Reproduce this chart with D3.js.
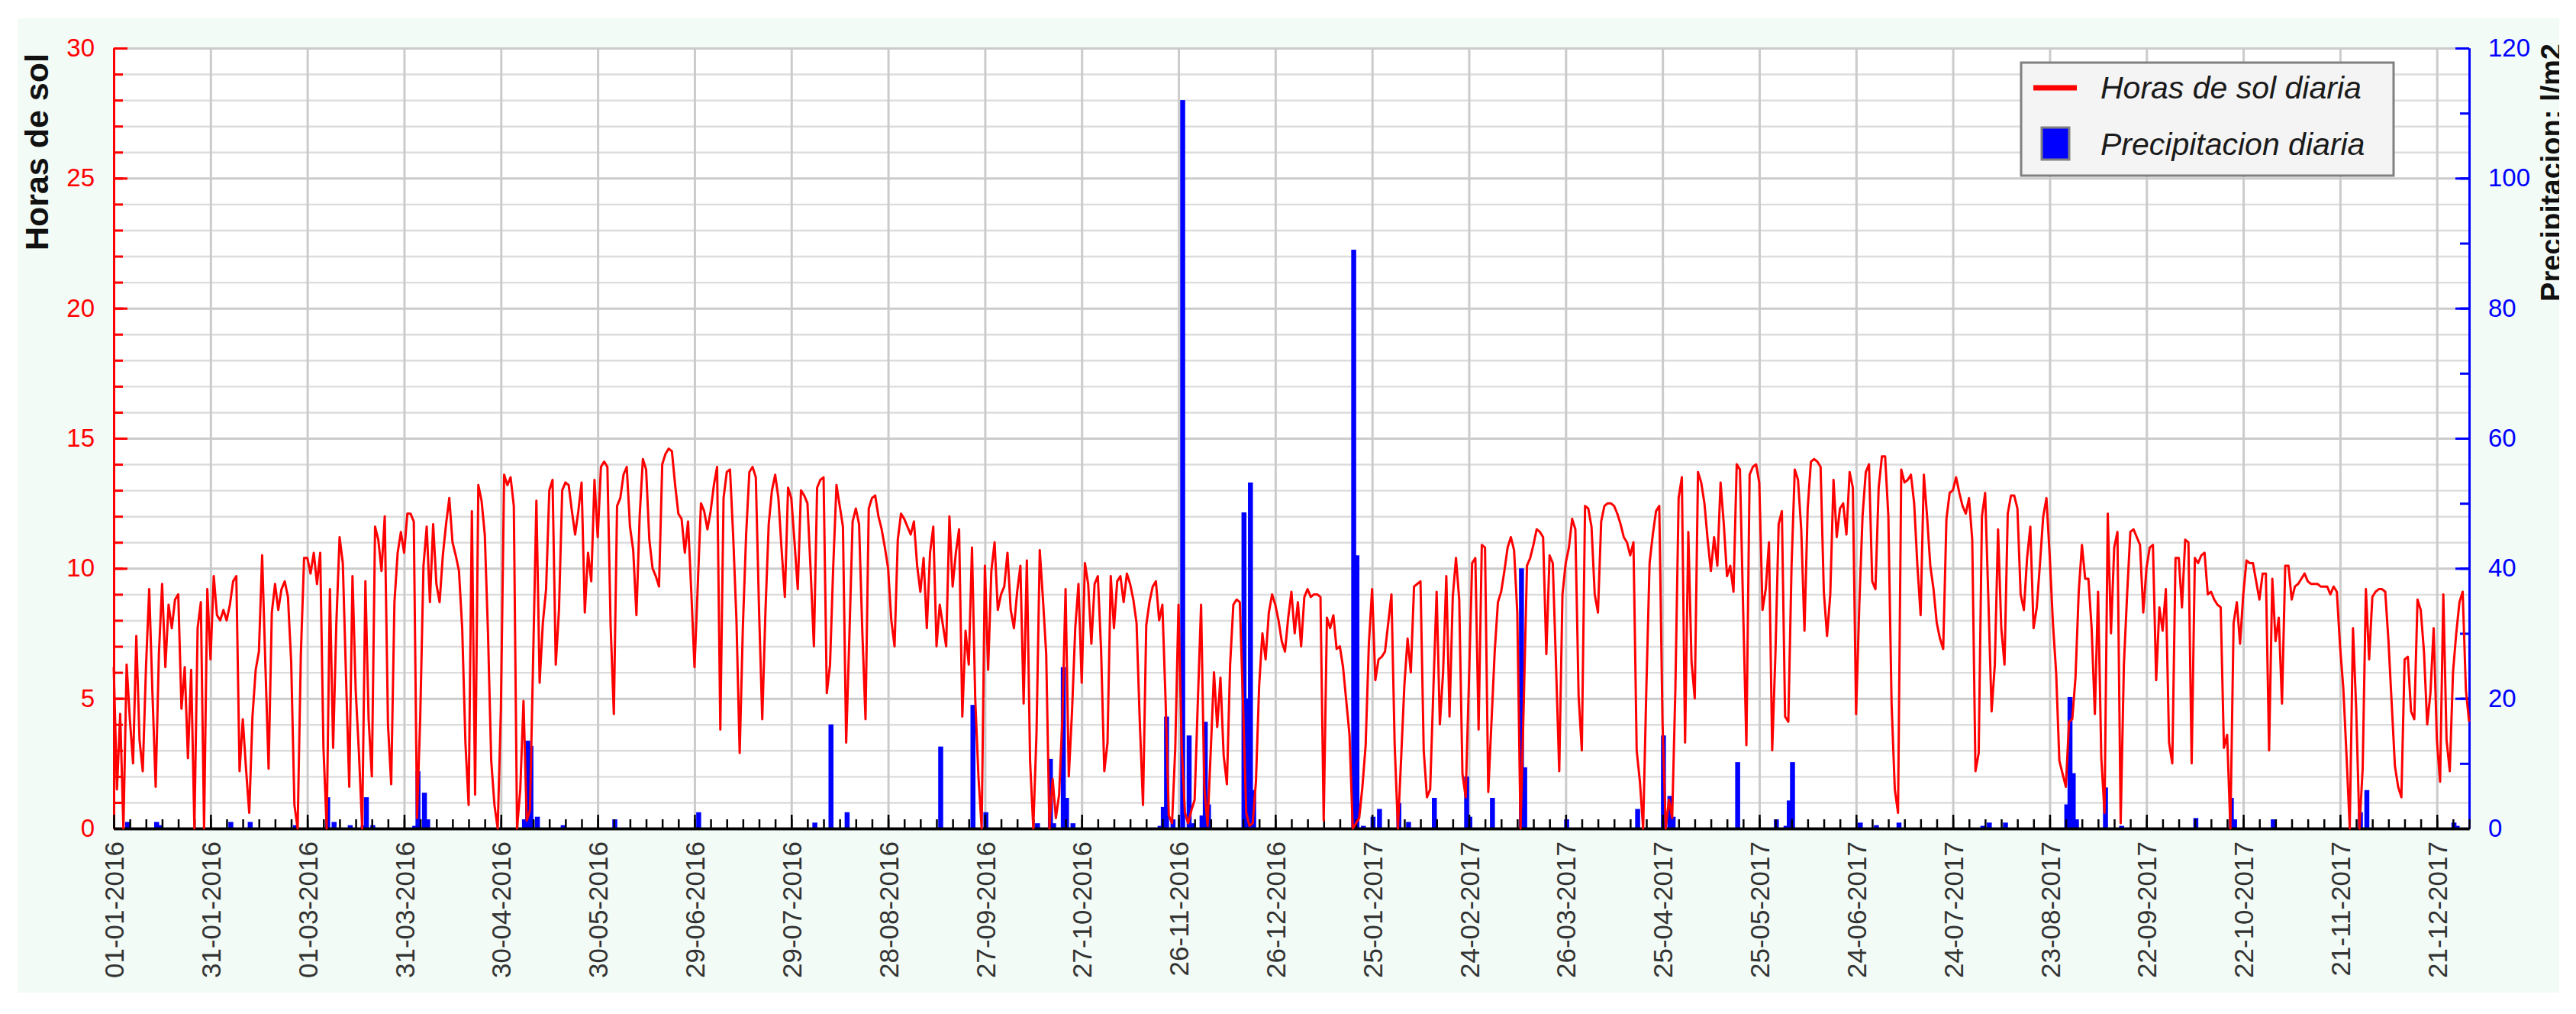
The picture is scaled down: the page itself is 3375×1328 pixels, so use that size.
<!DOCTYPE HTML>
<html>
  <head>
    <meta charset="utf-8">
    <title>Horas de sol y precipitacion diaria</title>
    <style>
      body { margin: 0; background: #fff; }
      svg text { font-family: "Liberation Sans", Arial, sans-serif; }
    </style>
  </head>
  <body>
    <script src="https://cdn.jsdelivr.net/npm/d3@7/dist/d3.min.js" charset="utf-8"></script>
    <script>
      // daily sunshine hours, one value per day from 01-01-2016
      var sun2016 = [
        6.2,1.5,4.4,0,6.3,4.2,2.5,7.4,3.4,2.2, 6.2,9.2,5.2,1.6,6.7,9.4,6.2,8.6,7.7,8.8,
        9.0,4.6,6.2,2.7,6.1,0,7.7,8.7,0,9.2, 6.5,9.7,8.2,8.0,8.4,8.0,8.6,9.5,9.7,2.2,
        4.2,2.3,0.6,4.3,6.1,6.8,10.5,6.3,2.3,8.3, 9.4,8.4,9.2,9.5,8.9,6.4,0.9,0,6.7,10.4,
        10.4,9.8,10.6,9.4,10.6,3.1,0,9.2,3.1,7.9, 11.2,10.2,5.8,1.6,9.7,5.3,2.9,0,9.5,4.2,
        2.0,11.6,11.1,9.9,12.0,4.0,1.7,8.7,10.6,11.4, 10.6,12.1,
        12.1,11.8,0.4,4.3,10.1,11.6,8.7,11.7,9.4,8.7, 10.5,11.7,12.7,11.0,10.5,9.9,7.7,3.3,0.9,12.2,
        1.3,13.2,12.6,11.3,7.5,2.6,0.9,0,4.6,13.6, 13.2,13.5,12.4,0,1.5,4.9,0.3,0.7,6.6,12.6,
        5.6,7.9,9.2,13.0,13.4,6.3,8.4,13.0,13.3,13.2, 12.2,11.3,12.2,13.3,8.3,10.6,9.5,13.4,11.2,13.9,
        14.1,13.9,7.8,4.4,12.4,12.7,13.6,13.9,11.6,10.7, 8.2,12.0,14.2,13.8,11.1,10.0,9.7,9.3,14.0,14.4,
        14.6,14.5,13.2,12.1,11.9,10.6,11.8,9.1,6.2,9.3, 12.5,
        12.2,11.5,12.2,13.2,13.9,3.8,12.7,13.7,13.8,11.2, 8.0,2.9,7.8,11.3,13.7,13.9,13.5,8.4,4.2,8.4,
        11.7,13.0,13.6,12.7,10.7,8.9,13.1,12.7,11.0,9.2, 13.0,12.8,12.5,9.9,7.0,13.1,13.4,13.5,5.2,6.3,
        10.1,13.2,12.4,11.6,3.3,7.4,11.8,12.3,11.7,7.6, 4.2,12.3,12.7,12.8,12.0,11.5,10.8,10.0,8.0,7.0,
        11.1,12.1,11.9,11.6,11.3,11.8,10.1,9.1,10.4,7.7, 10.6,11.6,7.0,8.6,7.8,7.0,12.0,9.3,10.6,11.5,
        4.3,7.6,6.3,10.8,5.0,2.0,0,10.1,6.1,9.9, 11.0,
        8.4,9.0,9.3,10.6,8.4,7.7,9.1,10.1,4.8,10.3, 2.6,0,3.7,10.7,8.8,6.7,0,1.9,0.4,1.3,
        4.2,9.2,2.0,4.5,7.7,9.4,5.6,10.2,9.4,7.1, 9.4,9.7,6.9,2.2,3.3,9.7,7.7,9.5,9.7,8.7,
        9.8,9.4,8.8,7.9,4.1,0.9,7.8,8.7,9.3,9.5, 8.0,8.6,4.9,0.5,0.2,3.1,8.6,3.1,0.6,0.2,
        0.7,1.1,4.9,8.6,1.6,0.1,3.0,6.0,3.9,5.8, 2.8,1.7,6.3,8.6,8.8,8.7,4.8,0.6,0.1,0.2,
        1.8,5.5,7.5,6.5,8.3,9.0,8.6,8.0,7.2,6.8, 8.1,9.1
      ];
      var sun2017 = [
        7.5,8.7,7.0,8.9,9.2,8.9,9.0,9.0,8.9,0.3, 8.1,7.7,8.2,6.9,7.0,6.2,4.9,3.6,0,0.2,
        0.4,1.6,3.2,7.1,9.2,5.7,6.5,6.6,6.8,7.9, 9.0,3.2,0,2.7,5.5,7.3,6.0,9.3,9.4,9.5,
        3.0,1.2,1.5,5.4,9.1,4.0,6.0,9.7,4.3,8.9, 10.4,8.8,2.1,1.2,5.6,10.2,10.4,3.8,10.9,10.8,
        1.4,4.1,6.8,8.7,9.1,9.9,10.8,11.2,10.7,8.3, 0,4.8,10.1,10.4,10.9,11.5,11.4,11.2,6.7,10.5,
        10.2,6.3,2.2,9.0,10.2,10.8,11.9,11.5,5.1,3.0, 12.4,
        12.3,11.6,9.0,8.3,11.8,12.4,12.5,12.5,12.4,12.1, 11.7,11.2,11.0,10.5,11.0,3.0,1.8,0,5.4,10.2,
        11.3,12.2,12.4,4.1,0,1.1,0.4,5.4,12.7,13.5, 3.3,11.4,6.4,5.0,13.7,13.3,12.5,11.1,9.9,11.2,
        10.1,13.3,11.7,9.7,10.1,9.1,14.0,13.8,8.4,3.2, 13.6,13.9,14.0,13.3,8.4,9.2,11.0,3.0,6.7,11.7,
        12.2,4.3,4.1,10.1,13.8,13.4,11.5,7.6,12.3,14.1, 14.2,14.1,13.9,9.1,7.4,9.0,13.4,11.2,12.3,12.5,
        11.3,13.7,13.1,4.4,8.6,12.0,13.7,14.0,9.5,9.2, 13.1,14.3,
        14.3,12.0,4.8,1.5,0.6,13.8,13.3,13.4,13.6,12.5, 10.1,8.2,13.6,12.0,10.1,9.2,7.9,7.3,6.9,11.9,
        12.9,13.0,13.5,12.9,12.4,12.1,12.7,11.1,2.2,2.9, 12.0,12.9,8.8,4.5,6.3,11.5,7.7,6.3,12.1,12.8,
        12.8,12.3,9.0,8.4,10.4,11.6,7.7,8.5,10.2,12.0, 12.7,10.5,7.9,6.0,2.6,2.1,1.6,4.1,4.2,5.8,
        9.1,10.9,9.6,9.6,7.7,4.4,9.1,2.7,0.6,12.1, 7.5,10.8,11.4,0.2,6.3,9.0,11.4,11.5,11.2,10.9,
        8.3,10.0,10.8,10.9,5.7,8.5,7.6,9.2,3.3,2.5, 10.4,
        10.4,8.5,11.1,11.0,2.5,10.4,10.2,10.5,10.6,9.0, 9.1,8.8,8.6,8.5,3.1,3.6,0,7.9,8.7,7.1,
        9.0,10.3,10.2,10.2,9.5,8.8,9.8,9.8,3.0,9.6, 7.2,8.1,4.8,10.1,10.1,8.8,9.3,9.4,9.6,9.8,
        9.5,9.4,9.4,9.4,9.3,9.3,9.3,9.0,9.3,9.1, 7.0,5.4,2.8,0,7.7,4.6,0,2.3,9.2,6.5,
        8.9,9.1,9.2,9.2,9.1,7.2,4.8,2.4,1.6,1.2, 6.5,6.6,4.5,4.2,8.8,8.4,6.8,4.0,5.2,7.7,
        3.4,1.8,9.0,3.4,2.2,6.0,7.5,8.7,9.1,5.3, 4.1
      ];

      // daily rain (l/m2): day number counted from 01-01-2016, and amount
      var rainDay = [4,13,14,36,42,56,66,68,73,77,78,80,
        93,94,96,97,127,128,129,131,139,155,181,
        217,222,227,256,266,270,
        286,290,291,294,295,297,324,325,326,328,331,333,334,337,338,339,350,351,352,353,
        384,385,387,390,392,398,401,409,419,420,427,436,437,450,
        472,480,482,483,503,515,518,519,520,541,546,
        553,579,581,586,605,606,607,608,617,622,
        645,656,657,669,696,698,725,726];
      var rainMm = [1.0,1.0,0.5,1.0,1.0,0.5,4.8,1.0,0.5,0.5,4.8,0.5,
        0.4,8.8,5.5,1.4,1.4,13.5,12.7,1.8,0.5,1.4,2.5,
        0.9,16,2.5,12.6,19,2.5,
        0.8,10.7,0.8,24.8,4.7,0.8,0.4,3.3,17.2,1.4,112,14.3,0.8,2,16.4,3.7,48.6,20,53.2,5.9,
        89,42,0.4,1.8,3,3.9,1,4.7,8,1.8,4.7,40,9.4,1.4,
        3,14.3,5,1.8,10.2,1.4,0.4,4.3,10.2,0.9,0.5,
        0.9,0.4,0.9,0.9,3.7,20.2,8.5,1.4,6.3,0.4,
        1.6,4.7,1.4,1.4,2.5,5.9,0.9,0.4];

      var dateLabels = ['01-01-2016','31-01-2016','01-03-2016','31-03-2016','30-04-2016',
        '30-05-2016','29-06-2016','29-07-2016','28-08-2016','27-09-2016','27-10-2016',
        '26-11-2016','26-12-2016','25-01-2017','24-02-2017','26-03-2017','25-04-2017',
        '25-05-2017','24-06-2017','24-07-2017','23-08-2017','22-09-2017','22-10-2017',
        '21-11-2017','21-12-2017'];
      var sunTicks = [0, 5, 10, 15, 20, 25, 30];
      var rainTicks = [0, 20, 40, 60, 80, 100, 120];

      var width = 3375,
        height = 1328,
        plotLeft = 149, plotRight = 3235, plotTop = 63, plotBottom = 1085;

      var parseDate = d3.utcParse('%d-%m-%Y');
      var start = parseDate('01-01-2016');

      var sun = sun2016.concat(sun2017).map(function(v, i) {
        return { date: d3.utcDay.offset(start, i), value: v };
      });
      var rain = rainDay.map(function(d, i) {
        return { date: d3.utcDay.offset(start, d), value: rainMm[i] };
      });
      var labelDates = dateLabels.map(parseDate);
      var minorDates = d3.range(0, sun.length, 5).map(function(d) { return d3.utcDay.offset(start, d); });

      var x = d3.scaleUtc()
          .domain([start, parseDate('31-12-2017')])
          .range([plotLeft, plotRight]);
      var ySun = d3.scaleLinear().domain([0, 30]).range([plotBottom, plotTop]);
      var yRain = d3.scaleLinear().domain([0, 120]).range([plotBottom, plotTop]);

      var svg = d3.select('body').append('svg')
          .attr('width', width)
          .attr('height', height);

      svg.append('clipPath').attr('id', 'panel-clip')
        .append('rect')
          .attr('x', 23).attr('y', 24)
          .attr('width', 3330).attr('height', 1276);

      // background panel and plot area
      svg.append('rect')
          .attr('x', 23).attr('y', 24)
          .attr('width', 3330).attr('height', 1276)
          .attr('fill', '#f2fbf6');
      svg.append('rect')
          .attr('x', plotLeft).attr('y', plotTop)
          .attr('width', plotRight - plotLeft).attr('height', plotBottom - plotTop)
          .attr('fill', '#fff');

      // grid lines
      var hGrid = svg.append('g')
          .attr('transform', 'translate(' + plotLeft + ',0)')
          .call(d3.axisLeft(ySun).tickValues(d3.range(0, 31)).tickSize(-(plotRight - plotLeft)).tickFormat(''));
      hGrid.select('.domain').remove();
      hGrid.selectAll('line')
          .attr('stroke', function(d) { return d % 5 ? '#dcdcdc' : '#cbcbcb'; })
          .attr('stroke-width', function(d) { return d % 5 ? 2.4 : 3; });

      var vGrid = svg.append('g')
          .attr('transform', 'translate(0,' + plotBottom + ')')
          .call(d3.axisBottom(x).tickValues(labelDates).tickSize(-(plotBottom - plotTop)).tickFormat(''));
      vGrid.select('.domain').remove();
      vGrid.selectAll('line').attr('stroke', '#cbcbcb').attr('stroke-width', 3);

      // rain bars
      svg.append('g').selectAll('rect')
          .data(rain)
        .enter().append('rect')
          .attr('x', function(d) { return x(d.date) - 2; })
          .attr('width', 6.5)
          .attr('y', function(d) { return yRain(d.value); })
          .attr('height', function(d) { return plotBottom - yRain(d.value); })
          .attr('fill', '#0000ff');

      // axes
      function styleAxis(g, color, width) {
        g.select('.domain').attr('stroke', color).attr('stroke-width', width);
        g.selectAll('.tick line').attr('stroke', color).attr('stroke-width', 3);
        g.selectAll('.tick text').attr('fill', color).style('font-size', '33px');
      }

      var leftMinor = svg.append('g')
          .attr('transform', 'translate(' + plotLeft + ',0)')
          .call(d3.axisLeft(ySun).tickValues(d3.range(0, 31)).tickSize(-12).tickSizeOuter(0).tickFormat(''));
      styleAxis(leftMinor, '#ff0000', 3);
      var leftAxis = svg.append('g')
          .attr('transform', 'translate(' + plotLeft + ',0)')
          .call(d3.axisLeft(ySun).tickValues(sunTicks).tickSize(-18).tickSizeOuter(0).tickPadding(25));
      styleAxis(leftAxis, '#ff0000', 3);

      var rightMinor = svg.append('g')
          .attr('transform', 'translate(' + plotRight + ',0)')
          .call(d3.axisRight(yRain).tickValues(d3.range(0, 121, 10)).tickSize(-12).tickSizeOuter(0).tickFormat(''));
      styleAxis(rightMinor, '#0000ff', 3);
      var rightAxis = svg.append('g')
          .attr('transform', 'translate(' + plotRight + ',0)')
          .call(d3.axisRight(yRain).tickValues(rainTicks).tickSize(-18).tickSizeOuter(0).tickPadding(25));
      styleAxis(rightAxis, '#0000ff', 3);

      var bottomMinor = svg.append('g')
          .attr('transform', 'translate(0,' + plotBottom + ')')
          .call(d3.axisBottom(x).tickValues(minorDates).tickSize(-12).tickSizeOuter(0).tickFormat(''));
      styleAxis(bottomMinor, '#000', 3.5);
      bottomMinor.selectAll('.tick line').attr('stroke-width', 2.5);
      var bottomAxis = svg.append('g')
          .attr('transform', 'translate(0,' + plotBottom + ')')
          .call(d3.axisBottom(x).tickValues(labelDates).tickSize(-18).tickSizeOuter(0)
            .tickFormat(function(d, i) { return dateLabels[i]; }));
      styleAxis(bottomAxis, '#000', 3.5);
      bottomAxis.selectAll('.tick line').attr('stroke-width', 2.5);
      bottomAxis.selectAll('.tick text')
          .attr('fill', '#333')
          .attr('transform', 'rotate(-90)')
          .attr('x', -17)
          .attr('y', 0)
          .attr('dy', '0.36em')
          .style('text-anchor', 'end')
          .style('font-size', '35px');

      // sunshine line, on top
      var line = d3.line()
          .x(function(d) { return x(d.date); })
          .y(function(d) { return ySun(d.value); });
      svg.append('path')
          .datum(sun)
          .attr('d', line)
          .attr('fill', 'none')
          .attr('stroke', '#ff0000')
          .attr('stroke-width', 3)
          .attr('stroke-linejoin', 'round');

      // axis titles
      svg.append('text')
          .attr('transform', 'translate(63,70) rotate(-90)')
          .style('text-anchor', 'end')
          .style('font-size', '43px')
          .style('font-weight', 'bold')
          .attr('fill', '#111')
          .text('Horas de sol');
      svg.append('g').attr('clip-path', 'url(#panel-clip)')
        .append('text')
          .attr('transform', 'translate(3356,57) rotate(-90)')
          .style('text-anchor', 'end')
          .style('font-size', '38px')
          .style('font-weight', 'bold')
          .attr('fill', '#111')
          .text('Precipitacion: l/m2');

      // legend
      var legend = svg.append('g').attr('transform', 'translate(2648,82)');
      legend.append('rect')
          .attr('width', 488).attr('height', 148)
          .attr('fill', '#f4f4f4')
          .attr('stroke', '#808080')
          .attr('stroke-width', 3);
      legend.append('line')
          .attr('x1', 16).attr('x2', 73)
          .attr('y1', 33).attr('y2', 33)
          .attr('stroke', '#ff0000')
          .attr('stroke-width', 7);
      legend.append('rect')
          .attr('x', 27).attr('y', 85)
          .attr('width', 36).attr('height', 42)
          .attr('fill', '#0000ff')
          .attr('stroke', '#808080')
          .attr('stroke-width', 3);
      legend.selectAll('text.item')
          .data(['Horas de sol diaria', 'Precipitacion diaria'])
        .enter().append('text')
          .attr('x', 104)
          .attr('y', function(d, i) { return 47 + i * 74; })
          .style('font-size', '41px')
          .style('font-style', 'italic')
          .attr('fill', '#1a1a1a')
          .text(function(d) { return d; });
    </script>
  </body>
</html>
